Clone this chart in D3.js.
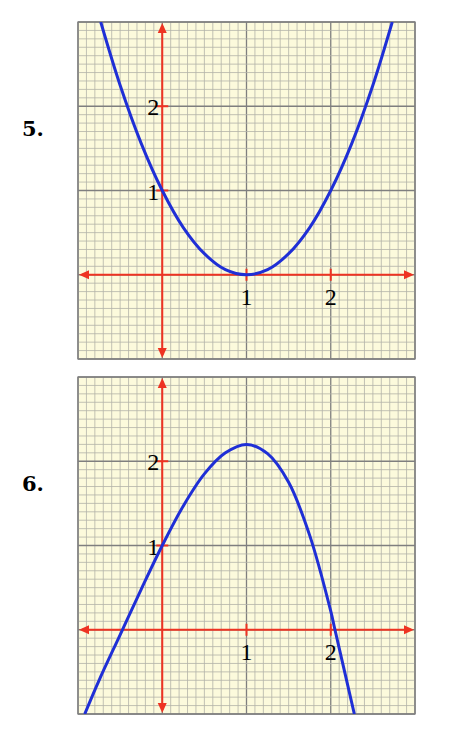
<!DOCTYPE html>
<html><head><meta charset="utf-8">
<script src="https://cdn.jsdelivr.net/npm/d3@7"></script>
<style>body{margin:0;background:#fff}</style>
</head><body>
<svg id="chart" width="474" height="755"></svg>
<script>
// curve points
const curve5 = [[-0.73,3],[-0.5,2.25],[-0.25,1.56],[0,1],[0.25,0.56],[0.5,0.25],[0.75,0.06],[1,0],[1.25,0.06],[1.5,0.25],[1.75,0.56],[2,1],[2.25,1.56],[2.5,2.25],[2.73,3]];
const curve6 = [[-0.92,-1],[-0.75,-0.6],[-0.5,-0.06],[-0.25,0.48],[0,1],[0.25,1.47],[0.5,1.85],[0.75,2.1],[1,2.2],[1.25,2.09],[1.5,1.75],[1.75,1.12],[2,0.22],[2.05,0],[2.28,-1]];
const xTicks = [1, 2];
const yTicks = [1, 2];
const panels = [
  { label: "5.", top: 22, data: curve5 },
  { label: "6.", top: 377, data: curve6 }
];

const svg = d3.select("#chart");
const left = 78, size = 337;

panels.forEach(p => {
  const x = d3.scaleLinear().domain([-1, 3]).range([left, left + size]);
  const y = d3.scaleLinear().domain([-1, 3]).range([p.top + size, p.top]);
  const g = svg.append("g");

  g.append("rect").attr("x", left).attr("y", p.top).attr("width", size).attr("height", size)
    .attr("fill", "#fcfadc");

  // grid, every 0.1 with darker whole units
  const minor = d3.range(-10, 31).map(i => i / 10);
  const isMajor = d => Math.abs(d - Math.round(d)) < 1e-6;
  g.selectAll(".mx").data(minor).join("line")
    .attr("x1", d => x(d)).attr("x2", d => x(d))
    .attr("y1", p.top).attr("y2", p.top + size)
    .attr("stroke", d => isMajor(d) ? "#7f7f7f" : "#b3b3a8")
    .attr("stroke-width", d => isMajor(d) ? 1.3 : 0.8);
  g.selectAll(".my").data(minor).join("line")
    .attr("y1", d => y(d)).attr("y2", d => y(d))
    .attr("x1", left).attr("x2", left + size)
    .attr("stroke", d => isMajor(d) ? "#7f7f7f" : "#b3b3a8")
    .attr("stroke-width", d => isMajor(d) ? 1.3 : 0.8);

  g.append("rect").attr("x", left).attr("y", p.top).attr("width", size).attr("height", size)
    .attr("fill", "none").attr("stroke", "#7f7f7f").attr("stroke-width", 1.3);

  // axes
  const red = "#ee3322";
  const axisLine = (x1, y1, x2, y2) => {
    g.append("line").attr("x1", x1).attr("y1", y1).attr("x2", x2).attr("y2", y2)
      .attr("stroke", red).attr("stroke-width", 2);
  };
  axisLine(x(-1) + 4, y(0), x(3) - 4, y(0));
  axisLine(x(0), y(3) + 4, x(0), y(-1) - 4);
  const head = (pts) => g.append("path").attr("d", d3.line()(pts)).attr("fill", red);
  head([[x(-1) + 1, y(0)], [x(-1) + 11, y(0) - 4.5], [x(-1) + 11, y(0) + 4.5]]);
  head([[x(3) - 1, y(0)], [x(3) - 11, y(0) - 4.5], [x(3) - 11, y(0) + 4.5]]);
  head([[x(0), y(3) + 1], [x(0) - 4.5, y(3) + 11], [x(0) + 4.5, y(3) + 11]]);
  head([[x(0), y(-1) - 1], [x(0) - 4.5, y(-1) - 11], [x(0) + 4.5, y(-1) - 11]]);

  xTicks.forEach(t => {
    g.append("line").attr("x1", x(t)).attr("x2", x(t)).attr("y1", y(0) - 6).attr("y2", y(0) + 6)
      .attr("stroke", red).attr("stroke-width", 2);
    g.append("text").attr("x", x(t)).attr("y", y(0) + 30).attr("text-anchor", "middle")
      .attr("font-family", "Liberation Serif").attr("font-size", 24).text(t);
  });
  yTicks.forEach(t => {
    g.append("line").attr("y1", y(t)).attr("y2", y(t)).attr("x1", x(0) - 6).attr("x2", x(0) + 6)
      .attr("stroke", red).attr("stroke-width", 2);
    g.append("text").attr("x", x(0) - 3).attr("y", y(t) + 9).attr("text-anchor", "end")
      .attr("font-family", "Liberation Serif").attr("font-size", 24).text(t);
  });

  // curve
  g.append("clipPath").attr("id", "c" + p.top).append("rect")
    .attr("x", left).attr("y", p.top).attr("width", size).attr("height", size);
  g.append("path").datum(p.data)
    .attr("clip-path", `url(#c${p.top})`)
    .attr("d", d3.line().x(d => x(d[0])).y(d => y(d[1])).curve(d3.curveCatmullRom))
    .attr("fill", "none").attr("stroke", "#1f2fd6").attr("stroke-width", 3);

  svg.append("text").attr("x", 22).attr("y", p.top + 114)
    .attr("font-family", "DejaVu Serif").attr("font-weight", "bold").attr("font-size", 21)
    .text(p.label);
});
</script>
</body></html>
